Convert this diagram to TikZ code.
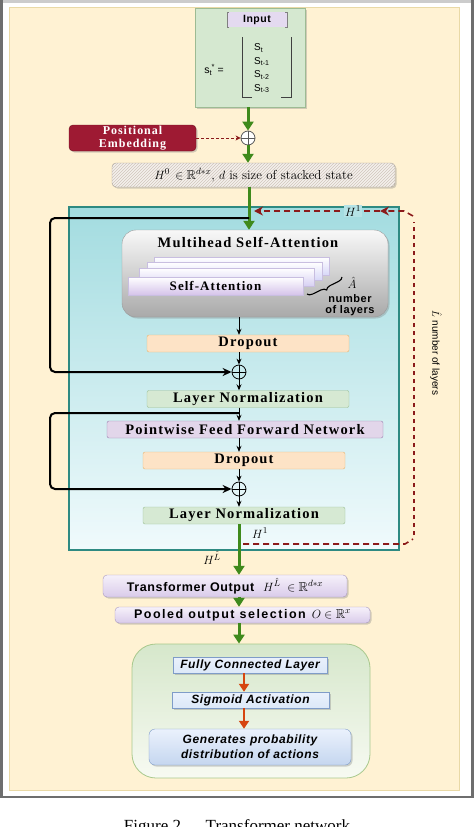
\documentclass[tikz,border=0pt]{standalone}
\usepackage{amsmath,amssymb}
\usepackage{fontspec}
\newfontfamily\sfb[LetterSpace=5]{Liberation Sans}
\newfontfamily\sfp[LetterSpace=12]{Liberation Sans}
\newfontfamily\sfr{Liberation Sans}
\newfontfamily\srb[LetterSpace=8]{Liberation Serif}
\newfontfamily\capf{Liberation Serif}
\usetikzlibrary{arrows.meta,shadows,patterns,decorations.pathreplacing,calc}
\definecolor{cream}{HTML}{FFF2D3}
\definecolor{creamedge}{HTML}{E9D9A6}
\definecolor{framegray}{HTML}{6E6E6E}
\definecolor{inputfill}{HTML}{D5E8D0}
\definecolor{inputdraw}{HTML}{9DBB93}
\definecolor{lav}{HTML}{E4DAF0}
\definecolor{pered}{HTML}{9E1A33}
\definecolor{peredge}{HTML}{701020}
\definecolor{h0fill}{HTML}{F4F0EC}
\definecolor{h0hatch}{HTML}{D0C6BC}
\definecolor{h0draw}{HTML}{A8A098}
\definecolor{tealtop}{HTML}{A3DCE0}
\definecolor{tealbot}{HTML}{F0FAFC}
\definecolor{tealdraw}{HTML}{2E8A82}
\definecolor{msatop}{HTML}{F8F8F8}
\definecolor{msabot}{HTML}{A9A9A9}
\definecolor{msadraw}{HTML}{9A9A9A}
\definecolor{sheetfront}{HTML}{D5C3EA}
\definecolor{sheetback}{HTML}{D8D8F8}
\definecolor{sheetdraw}{HTML}{C8BEE0}
\definecolor{dropfill}{HTML}{FDE3C6}
\definecolor{dropdraw}{HTML}{E6B572}
\definecolor{lnfill}{HTML}{D6E9D3}
\definecolor{lndraw}{HTML}{9CBF94}
\definecolor{pffnfill}{HTML}{E2D6EA}
\definecolor{pffndraw}{HTML}{9A80B0}
\definecolor{touttop}{HTML}{F6F1FA}
\definecolor{toutbot}{HTML}{D9CBEA}
\definecolor{toutdraw}{HTML}{A898C0}
\definecolor{finaltop}{HTML}{D6E7CB}
\definecolor{finalbot}{HTML}{F7FAF2}
\definecolor{finaldraw}{HTML}{A8C88C}
\definecolor{bluefill}{HTML}{DCE8F8}
\definecolor{bluedraw}{HTML}{7F9CC8}
\definecolor{gentop}{HTML}{EAF1FC}
\definecolor{genbot}{HTML}{C5D6EF}
\definecolor{arrgreen}{HTML}{3F8A1C}
\definecolor{arrred}{HTML}{D64510}
\definecolor{fbred}{HTML}{8B1A1A}
\newcommand{\sbs}[1]{\raisebox{-1.5pt}{\fontsize{7}{8}\selectfont #1}}
\begin{document}
\begin{tikzpicture}[x=1pt,y=-1pt,
  shad/.style={drop shadow={opacity=0.35,shadow xshift=1.5pt,shadow yshift=-1.5pt}},
  garrow/.style={line width=3pt,draw=arrgreen,-{Triangle[width=11pt,length=9pt]}},
  thinarrow/.style={line width=0.9pt,-{Stealth[width=5pt,length=6pt]}},
  skipline/.style={line width=2pt,rounded corners=5pt,-{Stealth[width=8pt,length=9pt]}},
  redarrow/.style={line width=2pt,draw=arrred,-{Triangle[width=10pt,length=8pt]}},
  fbdash/.style={line width=1.6pt,draw=fbred,dash pattern=on 6pt off 4pt},
  fbdot/.style={line width=2.4pt,draw=fbred,dash pattern=on 4pt off 4pt},
  fbtip/.style={fbdash,-{Stealth[width=9pt,length=9pt]}},
  oplusnode/.style={circle,draw,minimum size=14pt,inner sep=0pt,line width=0.8pt,
    path picture={\draw[line width=0.8pt] (path picture bounding box.north) -- (path picture bounding box.south) (path picture bounding box.west) -- (path picture bounding box.east);}},
  serifbold/.style={font=\srb\bfseries\fontsize{14.5}{16}\selectfont},
  dropbox/.style={draw=dropdraw,fill=dropfill,rounded corners=2pt,minimum width=202pt,minimum height=17pt,inner sep=0pt,serifbold},
  lnbox/.style={draw=lndraw,fill=lnfill,rounded corners=2pt,minimum width=202pt,minimum height=17pt,inner sep=0pt,serifbold},
  lavbox/.style={draw=toutdraw,top color=touttop,bottom color=toutbot,rounded corners=4pt,inner sep=0pt,shad},
  bluebox/.style={draw=bluedraw,top color=gentop,bottom color=bluefill,inner sep=0pt,minimum height=16pt,font=\sfb\bfseries\itshape\fontsize{12}{14}\selectfont,shad},
  sheet/.style={draw=sheetdraw,line width=0.4pt,top color=white,minimum width=175pt,minimum height=18pt,inner sep=0pt},
  mathlabel/.style={font=\fontsize{13}{15}\selectfont,inner sep=1pt}
]
\useasboundingbox (0,0) rectangle (474,827);
% frame
\fill[white] (0,0) rectangle (474,827);
\fill[gray!40] (0,0) rectangle (474,2.5);
\fill[framegray] (0,0) rectangle (3,798);
\fill[framegray] (0,795.5) rectangle (474,798);
\fill[framegray] (471,0) rectangle (474,798);
\filldraw[fill=cream,draw=creamedge,line width=0.8pt] (9,7) rectangle (459,790);
\node[font=\capf\fontsize{17}{19}\selectfont,anchor=base] (caption) at (237,831) {Figure 2.\hspace{1.2em}Transformer network};

% input
\node[draw=inputdraw,fill=inputfill,minimum width=110pt,minimum height=99pt,shad] (input) at (250,57.5) {};
\node[fill=lav,minimum width=60pt,minimum height=15pt,inner sep=0pt,font=\sfb\bfseries\fontsize{10.5}{12}\selectfont] (inlabel) at (257,19.5) {Input};
\draw[gray,line width=0.6pt] ([xshift=2pt]inlabel.north west) -- (inlabel.north west) -- (inlabel.south west) -- ([xshift=2pt]inlabel.south west);
\draw[gray,line width=0.6pt] ([xshift=-2pt]inlabel.north east) -- (inlabel.north east) -- (inlabel.south east) -- ([xshift=-2pt]inlabel.south east);
\node[font=\sfr\fontsize{10.5}{12}\selectfont,inner sep=0pt] (st) at (214,70) {s\raisebox{-2pt}{\fontsize{7.5}{8}\selectfont t}\raisebox{4pt}{\fontsize{7.5}{8}\selectfont *} =};
\draw[darkgray,line width=0.8pt] (252,97) -- (242,97) -- (242,37);
\draw[darkgray,line width=0.8pt] (281,97) -- (291,97) -- (291,37);
\begin{scope}[every node/.style={font=\sfr\fontsize{10}{11}\selectfont,anchor=west,inner sep=0pt}]
\node (s0) at (254,48) {S\sbs{t}};
\node (s1) at (254,61.5) {S\sbs{t-1}};
\node (s2) at (254,75) {S\sbs{t-2}};
\node (s3) at (254,88.5) {S\sbs{t-3}};
\end{scope}

% positional embedding
\node[fill=pered,draw=peredge,rounded corners=4pt,minimum width=127pt,minimum height=26pt,inner sep=0pt,align=center,text=white,font=\srb\bfseries\fontsize{12}{13.5}\selectfont,shad] (posemb) at (132.5,138) {Positional\\Embedding};
\node[oplusnode,fill=white,draw=gray!70!black] (oplus0) at (248,138) {};
\draw[line width=0.8pt,fbred,densely dashed,-{Stealth[width=5pt,length=5pt]}] (posemb.east) -- (oplus0.west);
\draw[garrow] (input.south -| oplus0) -- (oplus0.north);

% H0
\node[draw=h0draw,rounded corners=4pt,minimum width=283pt,minimum height=24pt,inner sep=0pt,shad,preaction={fill=h0fill},pattern=north east lines,pattern color=h0hatch,font=\fontsize{13}{15}\selectfont] (h0) at (253.5,175) {$H^0\,\in\mathbb{R}^{d*x}$, $d$ is size of stacked state};
\draw[garrow] (oplus0.south) -- (oplus0 |- h0.north);

% big box
\node[draw=tealdraw,line width=1.2pt,top color=tealtop,bottom color=tealbot,minimum width=330pt,minimum height=343pt,inner sep=0pt] (big) at (234,378.5) {};

% MSA
\node[draw=msadraw,rounded corners=14pt,top color=msatop,bottom color=msabot,minimum width=266pt,minimum height=87pt,inner sep=0pt,shad] (msa) at (255,273.5) {};
\node[serifbold,inner sep=0pt] (msat) at (248,242) {Multihead Self-Attention};
\node[sheet,bottom color=sheetback] (sh3) at (241.5,266) {};
\node[sheet,bottom color=sheetback] (sh2) at (234.5,271) {};
\node[sheet,bottom color=sheetback!60!sheetfront] (sh1) at (226.5,277) {};
\node[sheet,bottom color=sheetfront,font=\srb\bfseries\fontsize{13}{15}\selectfont] (sh0) at (215.5,286) {Self-Attention};
\draw[decorate,decoration={brace,amplitude=5pt,mirror},line width=1.1pt] (307,294) -- (342,277);
\node[font=\fontsize{13}{15}\selectfont,inner sep=0pt] (ahat) at (352,283) {$\hat{A}$};
\node[font=\sfb\bfseries\fontsize{11}{11}\selectfont,align=center,inner sep=0pt] (nlay) at (350,305) {number\\of layers};

% residual blocks
\node[dropbox] (drop1) at (248,343.5) {Dropout};
\node[oplusnode] (plus1) at (239,372) {};
\node[lnbox] (ln1) at (248,399) {Layer Normalization};
\node[draw=pffndraw,fill=pffnfill,rounded corners=2pt,minimum width=276pt,minimum height=17pt,inner sep=0pt,serifbold] (pffn) at (245,429.5) {Pointwise Feed Forward Network};
\node[dropbox] (drop2) at (244,460.5) {Dropout};
\node[oplusnode] (plus2) at (239,489) {};
\node[lnbox] (ln2) at (244,515.5) {Layer Normalization};

\coordinate (sp1) at (249,218);
\coordinate (sp2) at (239,413);
\draw[garrow] (h0.south -| sp1) -- (sp1 |- msa.north);
\draw[skipline] (sp1) -- (50,218) -- (50,372) -- (plus1.west);
\draw[thinarrow] (msa.south -| plus1) -- (plus1 |- drop1.north);
\draw[thinarrow] (drop1.south -| plus1) -- (plus1.north);
\draw[thinarrow] (plus1.south) -- (plus1 |- ln1.north);
\draw[thinarrow] (ln1.south -| plus1) -- (plus1 |- pffn.north);
\draw[skipline] (sp2) -- (50,413) -- (50,489) -- (plus2.west);
\draw[thinarrow] (pffn.south -| plus2) -- (plus2 |- drop2.north);
\draw[thinarrow] (drop2.south -| plus2) -- (plus2.north);
\draw[thinarrow] (plus2.south) -- (plus2 |- ln2.north);

% feedback loop
\coordinate (fbstart) at (243,544);
\coordinate (fbtip1) at (380,211);
\draw[fbdash] (fbstart) -- (405,544) -- (413,539);
\draw[fbdot] (414,535) -- (414,222);
\draw[fbtip] (413,216) -- (404,211) -- (fbtip1);
\draw[fbtip] (fbtip1) -- ($(sp1 |- fbtip1)+(5,0)$);
\node[mathlabel,fill=tealtop!80!white] (h1top) at (353,211) {$H^1$};
\node[rotate=-90,font=\sfr\fontsize{10}{12}\selectfont,inner sep=0pt] (nlayers) at (436,353) {$\hat{L}$ number of layers};

% output part
\node[lavbox,minimum width=244pt,minimum height=22pt,font=\sfb\bfseries\fontsize{12.5}{14}\selectfont] (tout) at (225,586) {Transformer Output\hspace{9pt}{\normalfont\fontsize{13}{15}\selectfont$H^{\hat{L}}\;\in\mathbb{R}^{d*x}$}};
\node[lavbox,minimum width=255pt,minimum height=16pt,font=\sfp\bfseries\fontsize{12.5}{14}\selectfont] (pooled) at (242.5,615) {Pooled output selection\hspace{6pt}{\normalfont\fontsize{13}{15}\selectfont$O\in\mathbb{R}^{x}$}};
\draw[garrow] (ln2.south -| plus2) -- (plus2 |- tout.north);
\node[mathlabel] (h1bot) at (260,533) {$H^1$};
\node[mathlabel] (hlhat) at (212,558) {$H^{\hat{L}}$};
\draw[garrow] (tout.south -| plus2) -- (plus2 |- pooled.north);

\node[draw=finaldraw,line width=0.8pt,top color=finaltop,bottom color=finalbot,rounded corners=24pt,minimum width=238pt,minimum height=134pt,inner sep=0pt] (final) at (251,711) {};
\draw[garrow] (pooled.south -| plus2) -- (plus2 |- final.north);
\node[bluebox,minimum width=154pt] (fc) at (250,665) {Fully Connected Layer};
\node[bluebox,minimum width=157pt] (sig) at (250.5,700) {Sigmoid Activation};
\node[draw=bluedraw,top color=gentop,bottom color=genbot,rounded corners=6pt,minimum width=202pt,minimum height=36pt,inner sep=0pt,align=center,font=\sfb\bfseries\itshape\fontsize{12}{15}\selectfont,shad] (gen) at (250,747) {Generates probability\\distribution of actions};
\coordinate (rx) at (244,700);
\draw[redarrow] (fc.south -| rx) -- (rx |- sig.north);
\draw[redarrow] (sig.south -| rx) -- (rx |- gen.north);
\end{tikzpicture}
\end{document}
